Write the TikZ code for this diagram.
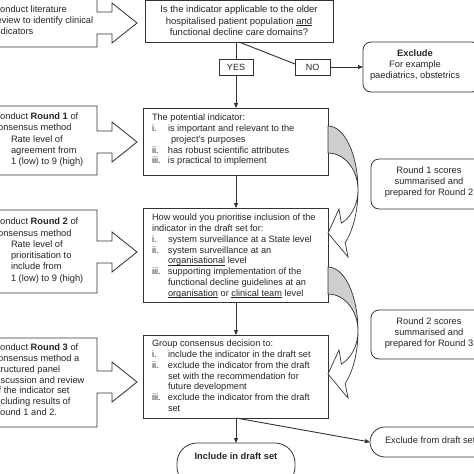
\documentclass[tikz,border=0pt]{standalone}
\usepackage{fontspec}
\setmainfont{Liberation Sans}
\usetikzlibrary{arrows.meta}
\definecolor{ln}{HTML}{333333}
\definecolor{tx}{HTML}{262626}
\definecolor{shade}{HTML}{CFCFCF}
\newcommand\blkarrow[3]{%
  \draw[blockarrow] (-60,#1) -- (97,#1) -- (97,#3-11) -- (112,#3-11) -- (112,#3-20) -- (137,#3)
     -- (112,#3+20) -- (112,#3+11) -- (97,#3+11) -- (97,#2) -- (-60,#2) -- cycle;}
\newcommand\curvedband[1]{%
  \begin{scope}[shift={(0,#1)}]
    \draw[curved, fill=shade] (328,126) .. controls (344.6,126) and (358,154.7) .. (358,190)
       .. controls (358,169.6) and (344.6,153) .. (328,153) -- cycle;
    \draw[curved, fill=white] (358,190) .. controls (358,204) and (351.6,216.8) .. (341.4,223.1)
       -- (339,209) -- (328,233) -- (348,257) -- (345.2,242.4)
       .. controls (353.2,230.4) and (358,210.9) .. (358,190) -- cycle;
  \end{scope}}
\newcommand\itm[1]{\makebox[16pt][l]{#1}}
\newcommand\ind{\hspace*{16pt}}
\newcommand\ul[1]{{\setbox0=\hbox{#1}\rlap{\rule[-1.5pt]{\wd0}{0.55pt}}\box0}}
\begin{document}
\begin{tikzpicture}[x=1pt,y=-1pt,
  frame/.style={draw=ln, line width=0.8pt, inner sep=0pt, outer sep=0pt},
  rbox/.style={frame, rounded corners=8pt},
  pill/.style={frame, rounded corners=15pt},
  txt/.style={inner sep=0pt, outer sep=0pt, text=tx, font=\fontsize{9.2}{10.8}\selectfont},
  conn/.style={draw=ln, line width=0.9pt},
  arr/.style={conn, -{Triangle[length=5pt,width=4pt]}},
  blockarrow/.style={draw=ln, line width=0.8pt, fill=white},
  curved/.style={draw=ln, line width=0.7pt}]
\useasboundingbox (0,0) rectangle (474,474);
\fill[white] (0,0) rectangle (474,474);
\clip (0,0) rectangle (474,474);

% left block arrows
\blkarrow{-1}{47}{23}
\blkarrow{106}{175}{142}
\blkarrow{210}{293}{252}
\blkarrow{338}{427}{382}

% boxes
\node[frame, minimum width=188pt, minimum height=41.5pt] (Q) at (239,21.25) {};
\node[frame, txt, font=\fontsize{9}{10}\selectfont, minimum width=34pt, minimum height=16pt] (yes) at (236,67) {YES};
\node[frame, txt, font=\fontsize{9}{10}\selectfont, minimum width=35pt, minimum height=16pt] (no) at (312.5,67) {NO};
\node[rbox, minimum width=117pt, minimum height=50pt] (excl) at (421.5,67) {};
\node[frame, minimum width=185pt, minimum height=67pt] (P) at (235.5,141.5) {};
\node[frame, minimum width=185pt, minimum height=94pt] (H) at (235.5,255) {};
\node[frame, minimum width=185pt, minimum height=83pt] (G) at (235.5,376.5) {};
\node[frame, rounded corners=20pt, minimum width=118pt, minimum height=44pt] (incl) at (236,465) {};
\node[pill, minimum width=130pt, minimum height=30pt] (exd) at (435,442) {};
\node[rbox, minimum width=116pt, minimum height=50pt] (r1) at (429,184) {};
\node[rbox, minimum width=116pt, minimum height=49pt] (r2) at (429,334.5) {};

% curved arrows
\curvedband{0}
\curvedband{141}

% connectors
\draw[conn] (Q.south -| yes.north) -- (yes.north);
\draw[conn] (Q.south) -- ([yshift=3pt]no.west);
\draw[arr] (no.east) -- (excl.west);
\draw[arr] (yes.south) -- (P.north -| yes.south);
\draw[arr] (P.south -| yes.south) -- (H.north -| yes.south);
\draw[arr] (H.south -| yes.south) -- (G.north -| yes.south);
\draw[arr] (G.south -| yes.south) -- (incl.north);
\draw[arr] (G.south -| yes.south) -- (exd.west);

% texts
\node[txt, font=\fontsize{9.5}{11.5}\selectfont, align=center, anchor=north] (tQ) at (239,6)
  {Is the indicator applicable to the older\\hospitalised patient population \ul{and}\\functional decline care domains?};
\node[txt, font=\fontsize{9.3}{11}\selectfont, align=center, anchor=north] (tEx) at (415,50)
  {\textbf{Exclude}\\For example\\paediatrics, obstetrics};
\node[txt, align=left, anchor=north west] (tP) at (152,114)
  {The potential indicator:\\\itm{i.}is important and relevant to the\\\hspace*{19pt}project's purposes\\\itm{ii.}has robust scientific attributes\\\itm{iii.}is practical to implement};
\node[txt, align=left, anchor=north west] (tH) at (152,214)
  {How would you prioritise inclusion of the\\indicator in the draft set for:\\\itm{i.}system surveillance at a State level\\\itm{ii.}system surveillance at an\\\ind\ul{organisational} level\\\itm{iii.}supporting implementation of the\\\ind functional decline guidelines at an\\\ind\ul{organisation} or \ul{clinical team} level};
\node[txt, align=left, anchor=north west] (tG) at (152,340)
  {Group consensus decision to:\\\itm{i.}include the indicator in the draft set\\\itm{ii.}exclude the indicator from the draft\\\ind set with the recommendation for\\\ind future development\\\itm{iii.}exclude the indicator from the draft\\\ind set};
\node[txt, font=\bfseries\fontsize{9.3}{11}\selectfont] (tIn) at (236,456) {Include in draft set};
\node[txt, font=\fontsize{9.3}{11}\selectfont, anchor=west] (tExd) at (385,440) {Exclude from draft set};
\node[txt, font=\fontsize{9.3}{11}\selectfont, align=center, anchor=north] (tR1) at (429,167)
  {Round 1 scores\\summarised and\\prepared for Round 2};
\node[txt, font=\fontsize{9.3}{10.8}\selectfont, align=center, anchor=north] (tR2) at (429,318)
  {Round 2 scores\\summarised and\\prepared for Round 3};
\node[txt, font=\fontsize{9.3}{10.8}\selectfont, align=left, anchor=north west] (tA0) at (-6.5,6)
  {Conduct literature\\review to identify clinical\\indicators};
\node[txt, font=\fontsize{9.3}{11.2}\selectfont, align=left, anchor=north west] (tA1) at (-6.5,113)
  {Conduct \textbf{Round 1} of\\consensus method\\\hspace*{17.5pt}Rate level of\\\hspace*{17.5pt}agreement from\\\hspace*{17.5pt}1 (low) to 9 (high)};
\node[txt, font=\fontsize{9.3}{11.3}\selectfont, align=left, anchor=north west] (tA2) at (-6.5,218)
  {Conduct \textbf{Round 2} of\\consensus method\\\hspace*{17.5pt}Rate level of\\\hspace*{17.5pt}prioritisation to\\\hspace*{17.5pt}include from\\\hspace*{17.5pt}1 (low) to 9 (high)};
\node[txt, font=\fontsize{9.3}{10.8}\selectfont, align=left, anchor=north west] (tA3) at (-6.5,344)
  {Conduct \textbf{Round 3} of\\consensus method a\\structured panel\\discussion and review\\of the indicator set\\including results of\\Round 1 and 2.};
\end{tikzpicture}
\end{document}
